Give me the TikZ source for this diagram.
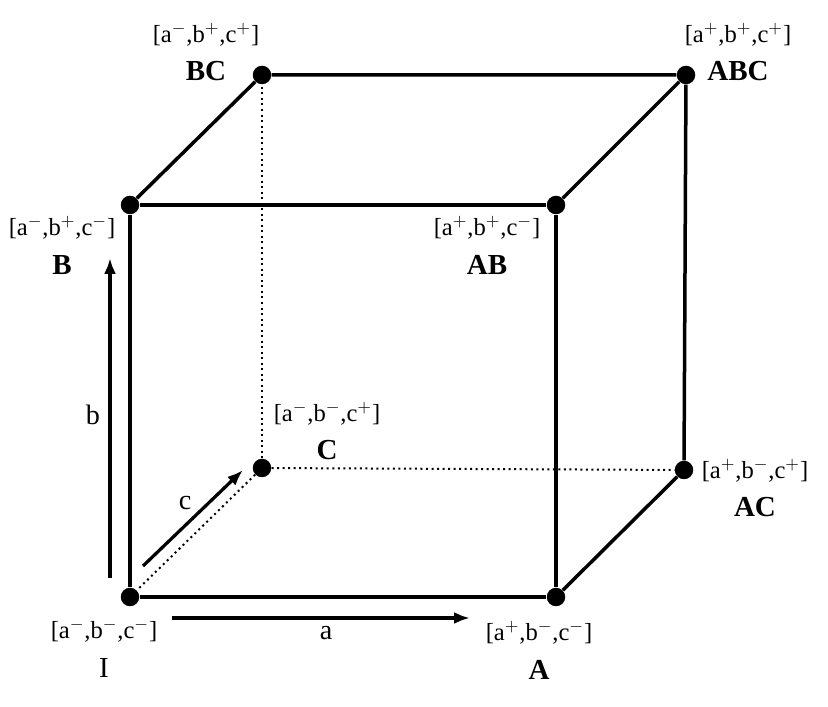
\documentclass[tikz,border=0pt]{standalone}
\usepackage{fontspec}
\setmainfont{Liberation Serif}
\usetikzlibrary{arrows.meta}
\tikzset{
  vtx/.style={circle,fill=black,inner sep=0pt,minimum size=0.37cm},
  edge/.style={line width=0.07cm},
  hidden/.style={line width=0.04cm,dotted},
  dirarrow/.style={line width=0.065cm,-{Latex[length=0.32cm,width=0.24cm]}},
  vlabel/.style={align=center,inner sep=0pt,font=\fontsize{14}{22}\selectfont},
  dirlabel/.style={inner sep=0pt,font=\fontsize{16}{18}\selectfont}
}
\newcommand{\vstate}[3]{[a$^{#1}$,b$^{#2}$,c$^{#3}$]}
\newcommand{\vname}[1]{{\fontsize{16.5}{22}\selectfont\textbf{#1}}}
\begin{document}
\begin{tikzpicture}
\useasboundingbox (0,0) rectangle (16.56,14.14);

% Marking the corners of the cube
\node[vtx] (I)   at (2.60,2.20)  {};
\node[vtx] (A)   at (11.12,2.20) {};
\node[vtx] (B)   at (2.60,10.04) {};
\node[vtx] (AB)  at (11.12,10.04) {};
\node[vtx] (C)   at (5.24,4.78)  {};
\node[vtx] (AC)  at (13.68,4.74) {};
\node[vtx] (BC)  at (5.24,12.64) {};
\node[vtx] (ABC) at (13.72,12.64) {};

% Drawing hidden segments
\draw[hidden] (C) -- (I);
\draw[hidden] (C) -- (BC);
\draw[hidden] (C) -- (AC);

% Drawing front face
\draw[edge] (I) -- (A) -- (AB) -- (B) -- (I);

% Drawing top face
\draw[edge] (B) -- (BC) -- (ABC) -- (AB);

% Drawing right face
\draw[edge] (ABC) -- (AC) -- (A);

% Labelling the corners
\node[vlabel] (lBC)  at ([shift={(-1.12,0.46)}]BC)   {\vstate{-}{+}{+}\\\vname{BC}};
\node[vlabel] (lABC) at ([shift={(1.04,0.46)}]ABC)   {\vstate{+}{+}{+}\\\vname{ABC}};
\node[vlabel] (lB)   at ([shift={(-1.36,-0.80)}]B)   {\vstate{-}{+}{-}\\\vname{B}};
\node[vlabel] (lAB)  at ([shift={(-1.38,-0.80)}]AB)  {\vstate{+}{+}{-}\\\vname{AB}};
\node[vlabel] (lC)   at ([shift={(1.30,0.74)}]C)     {\vstate{-}{-}{+}\\\vname{C}};
\node[vlabel] (lAC)  at ([shift={(1.42,-0.36)}]AC)   {\vstate{+}{-}{+}\\\vname{AC}};
\node[vlabel] (lI)   at ([shift={(-0.52,-1.02)}]I)   {\vstate{-}{-}{-}\\{\fontsize{16.5}{22}\selectfont I}};
\node[vlabel] (lA)   at ([shift={(-0.34,-1.06)}]A)   {\vstate{+}{-}{-}\\\vname{A}};

% Drawing the factor directions
\coordinate (aTail) at (3.44,1.78);
\coordinate (aHead) at (9.40,1.78);
\coordinate (bTail) at (2.20,2.58);
\coordinate (bHead) at (2.20,8.98);
\coordinate (cTail) at (2.86,2.82);
\coordinate (cHead) at (4.86,4.74);
\draw[dirarrow] (aTail) -- (aHead);
\draw[dirarrow] (bTail) -- (bHead);
\draw[dirarrow] (cTail) -- (cHead);
\node[dirlabel] (la) at (6.52,1.48) {a};
\node[dirlabel] (lb) at (1.86,5.84) {b};
\node[dirlabel] (lc) at (3.70,4.08) {c};
\end{tikzpicture}
\end{document}
